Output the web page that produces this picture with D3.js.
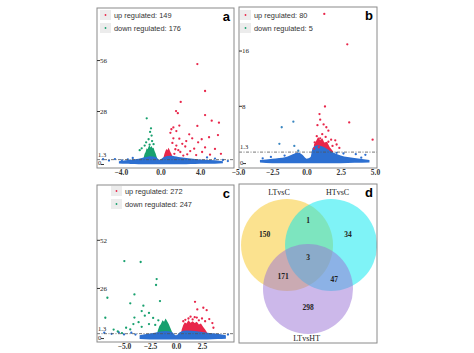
<!DOCTYPE html>
<html>
<head>
<meta charset="utf-8">
<script src="https://cdn.jsdelivr.net/npm/d3@7"></script>
<style>
body { margin: 0; background: #fff; }
svg { display: block; }
</style>
</head>
<body>
<script>

// ---------- data ----------

// panel a
var aUpPts = [[3.72,53.8],[4.5,39],[2.04,33],[1.57,28],[1.75,26.8],[4.5,25.8],[5.17,22.7],[5.9,21.6],
    [3.72,19.8],[1.3,19],[1.6,17],[1.1,18],[1.0,16],[1.9,20],[5.8,14.8],[4.9,13.6],[4.16,12.5],
    [2.9,15.2],[3.2,13],[2.6,11.5],[3.8,10.8],[1.9,12.8],[2.2,10],[4.5,8],[5.5,7.2],[3.4,7.3],
    [2.5,8.5],[3.0,6],[4.2,5.5],[6.1,4.5],[2.0,5.5],[1.6,9],[1.3,13],[1.5,7],[5.0,4],[3.6,3.8],[2.7,4.2],
    [1.2,10.5],[1.8,6.5],[1.4,4.5],[2.3,3.5]];
var aDownPts = [[-1.39,24],[-0.96,18.5],[-1.05,16.5],[-0.9,14.5],[-1.2,12.5],[-1.45,10.8],
    [-0.85,11.5],[-1.1,9.5],[-1.6,9],[-0.7,9.8],[-1.9,7.5],[-2.1,6.5]];
var aNsPts = [[-5.8,1.5],[-5.2,0.8],[-4.6,1.6],[-3.9,0.9],[-3.3,1.4],[-2.8,2.2],[-2.5,0.6],
    [5.5,1.9],[6.3,1.1],[4.7,2.5],[6.8,0.5]];
// dense clouds: [x, low, high]
var aNsBand = [[-4.2,-0.8,0.4],[-3.5,-1.0,1.0],[-3,-1.1,1.3],[-2.2,-1.2,1.8],[-1.6,-1.2,2.6],
    [-1,-1.2,3.2],[-0.5,-1.2,2.8],[-0.1,-1.2,1.2],[0.3,-1.2,2.6],[1,-1.2,3.4],[1.8,-1.2,2.8],
    [2.6,-1.2,2.2],[3.5,-1.1,1.7],[4.5,-1.0,1.3],[5.5,-0.9,0.9],[6.3,-0.7,0.4]];
var aUpBlob = [[0.25,-0.5,0.3],[0.3,-0.5,2.5],[0.4,-0.5,4.5],[0.5,-0.5,6],[0.6,-0.5,7.2],[0.7,-0.5,6.5],
    [0.8,-0.5,7.8],[0.9,-0.5,6.8],[1.0,-0.5,5.5],[1.1,-0.5,4.5],[1.2,-0.5,3],[1.3,-0.5,1.8],[1.45,-0.5,0.3]];
var aDownBlob = [[-1.8,-0.5,0.3],[-1.7,-0.5,2.5],[-1.6,-0.5,4.5],[-1.5,-0.5,5.5],[-1.4,-0.5,7.5],
    [-1.3,-0.5,7],[-1.2,-0.5,8.5],[-1.1,-0.5,9],[-1.0,-0.5,8],[-0.9,-0.5,8.8],[-0.8,-0.5,7.5],
    [-0.7,-0.5,7.8],[-0.6,-0.5,6],[-0.5,-0.5,4.8],[-0.4,-0.5,3],[-0.3,-0.5,1.5],[-0.22,-0.5,0.3]];
var aXTicks = [-4, 0, 4];
var aYTicks = [0, 1.3, 28, 56];

// panel b
var bUpPts = [[1.3,21.3],[2.98,16.9],[1.35,7.9],[0.95,6.8],[1.0,6],[1.25,5.3],[0.8,5.2],[1.45,4.9],
    [1.6,4.4],[1.15,3.9],[0.75,3.6],[1.4,3.5],[1.0,3.3],[1.8,3.1],[2.1,3],[1.6,2.8],[0.6,2.7],
    [2.2,2.4],[4.83,3.1],[1.25,2.5],[1.9,2.2],[0.9,2.0],[2.4,1.9],[0.55,1.8],[3.12,5.6]];
var bDownPts = [[-1.81,4.9],[-1.98,2.5],[-0.96,5.7],[-0.89,2.2],[-0.6,1.5]];
var bNsPts = [[4.3,0.9],[3.6,1.0],[2.7,1.1],[2.2,1.2],[-2.6,0.6],[-3.2,0.4],[4.0,0.5],[-1.6,0.8]];
var bNsBand = [[-3.4,-0.2,0.15],[-2.5,-0.3,0.35],[-1.5,-0.3,0.6],[-1.0,-0.3,1.0],[-0.6,-0.3,1.25],
    [-0.3,-0.3,0.9],[0,-0.3,0.35],[0.3,-0.3,0.6],[0.45,-0.3,1.9],[0.8,-0.3,2.3],[1.3,-0.3,2.0],
    [1.8,-0.3,1.4],[2.5,-0.3,0.8],[3.5,-0.25,0.45],[4.6,-0.2,0.15]];
var bUpBlob = [[0.5,1.3,1.4],[0.55,1.3,2.4],[0.7,1.3,2.9],[0.85,1.3,3.5],[1.0,1.3,3.0],[1.15,1.3,3.3],
    [1.3,1.3,2.7],[1.5,1.3,2.8],[1.7,1.3,2.0],[1.95,1.3,1.4]];
var bDownBlob = [];
var bXTicks = [-5, -2.5, 0, 2.5, 5];
var bYTicks = [0, 1.3, 8, 16];

// panel c
var cUpPts = [[1.83,18.5],[2.63,15.3],[2.05,14.4],[2.95,14],[1.2,9.5],[0.9,8.8],[1.6,9],[2.2,8.5],
    [2.8,8],[3.5,7],[1.4,10.5],[2.0,10],[3.2,9.2],[0.7,8],[2.5,9.5],[1.8,10.2],[3.6,4.5]];
var cDownPts = [[-4.97,40.5],[-3.4,40],[-1.86,30.8],[-1.92,27.6],[-6.6,20.7],[-4.0,22.5],[-4.4,17.7],
    [-3.14,16.4],[-1.54,18.9],[-3.3,13.5],[-6.8,9.9],[-2.6,12.5],[-4.0,10],[-3.0,11],[-2.2,9.8],
    [-3.6,7.5],[-4.1,6.5],[-4.8,4.5],[-5.6,2.5],[-6.0,3.5],[-4.4,3.6],[-5.2,1.6],[-3.3,5],
    [-2.6,6.5],[-2.0,6],[-1.7,8.5]];
var cNsPts = [[-6.9,1.8],[-6.2,1.2],[-5.5,2.0],[-5.0,0.9],[-4.3,1.8],[-3.9,0.8],[5.0,0.8]];
var cNsBand = [[-3.5,-1.6,0.5],[-2.5,-1.8,1.4],[-1.6,-1.8,2.4],[-1.0,-1.8,2.8],[-0.4,-1.8,2.2],
    [0,-1.8,0.4],[0.4,-1.8,2.2],[1.0,-1.8,3.0],[2.0,-1.8,2.6],[3.0,-1.8,1.8],[4.0,-1.6,1.2],[4.8,-1.4,0.4]];
var cUpBlob = [[0.45,-0.5,0.5],[0.55,-0.5,3.5],[0.7,-0.5,6],[0.85,-0.5,7.5],[1.0,-0.5,6.8],[1.2,-0.5,8.5],
    [1.4,-0.5,7.2],[1.6,-0.5,8],[1.8,-0.5,7],[2.0,-0.5,7.8],[2.2,-0.5,6.2],[2.4,-0.5,6.8],[2.6,-0.5,5],
    [2.8,-0.5,3.5],[3.0,-0.5,1.8],[3.15,-0.5,0.5]];
var cDownBlob = [[-1.85,-0.5,0.5],[-1.75,-0.5,3],[-1.6,-0.5,5.5],[-1.45,-0.5,6.5],[-1.3,-0.5,8.5],
    [-1.15,-0.5,7.8],[-1.0,-0.5,9.5],[-0.85,-0.5,8],[-0.7,-0.5,6.5],[-0.55,-0.5,4.5],[-0.4,-0.5,2.5],
    [-0.28,-0.5,0.5]];
var cXTicks = [-5, -2.5, 0, 2.5];
var cYTicks = [0, 1.3, 26, 52];

var upCounts = [149, 80, 272];
var downCounts = [176, 5, 247];
var threshold = 1.3;

// panel d (venn)
var vennSets = ["LTvsC", "HTvsC", "LTvsHT"];
var vennRegions = ["LTvsC", "LTvsC&HTvsC", "HTvsC", "all", "LTvsC&LTvsHT", "HTvsC&LTvsHT", "LTvsHT"];
var vennCounts = [150, 1, 34, 3, 171, 47, 298];

// ---------- drawing ----------

var colUp = "#e8264a", colDown = "#17a06e", colNs = "#2c6fd1";
var serif = "'Liberation Serif','Times New Roman',serif";
var sans = "'Liberation Sans',Arial,sans-serif";

var svg = d3.select("body").append("svg")
    .attr("width", 474)
    .attr("height", 353);

function drawVolcano(p, i) {
    var box = p.box;
    var x = d3.scaleLinear().domain(p.xDomain).range([box.x, box.x + box.w]);
    var y = d3.scaleLinear().domain(p.yDomain).range([box.y + box.h, box.y]);

    var g = svg.append("g");
    g.append("clipPath").attr("id", "clip" + i)
        .append("rect").attr("x", box.x).attr("y", box.y).attr("width", box.w).attr("height", box.h);
    var plot = g.append("g").attr("clip-path", "url(#clip" + i + ")");

    var area = d3.area()
        .x(function (d) { return x(d[0]); })
        .y0(function (d) { return y(d[1]); })
        .y1(function (d) { return y(d[2]); });

    plot.append("path").datum(p.upBlob).attr("d", area).attr("fill", colUp);
    if (p.downBlob.length) plot.append("path").datum(p.downBlob).attr("d", area).attr("fill", colDown);
    plot.append("path").datum(p.nsBand).attr("d", area.curve(d3.curveMonotoneX)).attr("fill", colNs);

    function dots(data, col) {
        plot.append("g").selectAll("circle")
            .data(data).enter().append("circle")
            .attr("cx", function (d) { return x(d[0]); })
            .attr("cy", function (d) { return y(d[1]); })
            .attr("r", 1.15)
            .style("fill", col);
    }
    dots(p.nsPts, colNs);
    dots(p.downPts, p.downCol || colDown);
    dots(p.upPts, colUp);

    // threshold line
    plot.append("line")
        .attr("x1", box.x).attr("x2", box.x + box.w)
        .attr("y1", y(threshold)).attr("y2", y(threshold))
        .attr("stroke", "#555").attr("stroke-width", 0.8)
        .attr("stroke-dasharray", "3,1.5,1,1.5");

    // frame
    g.append("rect")
        .attr("x", box.x).attr("y", box.y).attr("width", box.w).attr("height", box.h)
        .attr("fill", "none").attr("stroke", "#8a8a8a").attr("stroke-width", 1);

    // y axis, ticks inside
    var ya = g.append("g")
        .attr("transform", "translate(" + box.x + ",0)")
        .call(d3.axisRight(y).tickValues(p.yTicks).tickSize(3).tickPadding(0)
            .tickFormat(function (d) { return d === 1.3 ? "1.3" : d; }));
    ya.select(".domain").remove();
    ya.selectAll("text").style("font-family", serif).style("font-size", "7px").attr("fill", "#222");
    ya.selectAll(".tick line").attr("stroke", "#333");
    var t13 = ya.selectAll(".tick").filter(function (d) { return d === 1.3; });
    t13.select("line").remove();
    t13.select("text").attr("x", 1).attr("dy", "-0.55em").style("font-size", "6.5px");
    var t0 = ya.selectAll(".tick").filter(function (d) { return d === 0; });
    t0.select("text").attr("x", 1).attr("dy", "0.45em").style("font-size", "6.5px");
    t0.select("line").attr("transform", "translate(4,2)");

    // x axis below the frame
    var xa = g.append("g")
        .attr("transform", "translate(0," + (box.y + box.h) + ")")
        .call(d3.axisBottom(x).tickValues(p.xTicks).tickSize(0).tickPadding(2)
            .tickFormat(d3.format(".1f")));
    xa.select(".domain").remove();
    xa.selectAll("text").style("font-family", serif).style("font-size", "7.5px")
        .style("font-weight", "bold").attr("fill", "#333");

    // legend
    var lg = g.append("g").attr("transform", "translate(" + p.legend[0] + "," + p.legend[1] + ")");
    var items = [["up regulated: " + upCounts[i], colUp], ["down regulated: " + downCounts[i], colDown]];
    items.forEach(function (it, k) {
        lg.append("rect").attr("x", 0).attr("y", k * 13).attr("width", 11).attr("height", 10)
            .attr("fill", "#ececec");
        lg.append("circle").attr("cx", 5.5).attr("cy", k * 13 + 5).attr("r", 0.9).attr("fill", it[1]);
        lg.append("text").attr("x", 14).attr("y", k * 13 + 7.8)
            .style("font-family", sans).style("font-size", "7.4px").attr("fill", "#333")
            .text(it[0]);
    });

    // panel letter
    g.append("text").attr("x", box.x + box.w - 4).attr("y", box.y + 13)
        .attr("text-anchor", "end")
        .style("font-family", sans).style("font-size", "13px").style("font-weight", "bold")
        .text(p.letter);
}

var panels = [
    { letter: "a", box: { x: 97, y: 8, w: 137, h: 160 }, xDomain: [-6.41, 7.42], yDomain: [-3.3, 84.6],
      xTicks: aXTicks, yTicks: aYTicks, upPts: aUpPts, downPts: aDownPts, nsPts: aNsPts,
      nsBand: aNsBand, upBlob: aUpBlob, downBlob: aDownBlob, legend: [100, 10] },
    { letter: "b", box: { x: 239, y: 7, w: 138, h: 161 }, xDomain: [-4.93, 5.15], yDomain: [-1.0, 22.3],
      xTicks: bXTicks, yTicks: bYTicks, upPts: bUpPts, downPts: bDownPts, nsPts: bNsPts,
      nsBand: bNsBand, upBlob: bUpBlob, downBlob: bDownBlob, legend: [240, 10], downCol: "#3a86c0" },
    { letter: "c", box: { x: 97, y: 185, w: 137, h: 157 }, xDomain: [-7.6, 5.58], yDomain: [-3.2, 81.6],
      xTicks: cXTicks, yTicks: cYTicks, upPts: cUpPts, downPts: cDownPts, nsPts: cNsPts,
      nsBand: cNsBand, upBlob: cUpBlob, downBlob: cDownBlob, legend: [111, 186] }
];
panels.forEach(drawVolcano);

// ---------- venn ----------
var dBox = { x: 239, y: 184, w: 138, h: 159 };
var vx = d3.scaleLinear().domain([0, 1]).range([dBox.x, dBox.x + dBox.w]);
var vy = d3.scaleLinear().domain([0, 1]).range([dBox.y, dBox.y + dBox.h]);

var circleLayout = [
    { cx: 0.348, cy: 0.384, r: 46, fill: "#f7c520" },
    { cx: 0.667, cy: 0.384, r: 46, fill: "#00e8f0" },
    { cx: 0.500, cy: 0.660, r: 45, fill: "#9a72d6" }
];
var setLabelPos = [[0.29, 0.075], [0.715, 0.075], [0.49, 0.995]];
var regionPos = [[0.186, 0.32], [0.50, 0.23], [0.79, 0.32], [0.50, 0.46], [0.32, 0.58], [0.69, 0.60], [0.50, 0.775]];

var dg = svg.append("g");
dg.append("clipPath").attr("id", "clipd")
    .append("rect").attr("x", dBox.x).attr("y", dBox.y).attr("width", dBox.w).attr("height", dBox.h);
dg.append("g").attr("clip-path", "url(#clipd)")
    .selectAll("circle").data(vennSets).enter().append("circle")
    .attr("cx", function (d, i) { return vx(circleLayout[i].cx); })
    .attr("cy", function (d, i) { return vy(circleLayout[i].cy); })
    .attr("r", function (d, i) { return circleLayout[i].r; })
    .attr("fill", function (d, i) { return circleLayout[i].fill; })
    .attr("fill-opacity", 0.5);

dg.selectAll(".setlab").data(vennSets).enter().append("text")
    .attr("x", function (d, i) { return vx(setLabelPos[i][0]); })
    .attr("y", function (d, i) { return vy(setLabelPos[i][1]) - 1; })
    .attr("text-anchor", "middle")
    .style("font-family", serif).style("font-size", "8px").attr("fill", "#222")
    .text(function (d) { return d; });

dg.selectAll(".cnt").data(vennCounts).enter().append("text")
    .attr("x", function (d, i) { return vx(regionPos[i][0]); })
    .attr("y", function (d, i) { return vy(regionPos[i][1]) + 2.5; })
    .attr("text-anchor", "middle")
    .style("font-family", serif).style("font-size", "7.5px").style("font-weight", "bold").attr("fill", "#222")
    .text(function (d) { return d; });

dg.append("rect")
    .attr("x", dBox.x).attr("y", dBox.y).attr("width", dBox.w).attr("height", dBox.h)
    .attr("fill", "none").attr("stroke", "#8a8a8a").attr("stroke-width", 1);

dg.append("text").attr("x", dBox.x + dBox.w - 4).attr("y", dBox.y + 13)
    .attr("text-anchor", "end")
    .style("font-family", sans).style("font-size", "13px").style("font-weight", "bold")
    .text("d");

</script>
</body>
</html>
